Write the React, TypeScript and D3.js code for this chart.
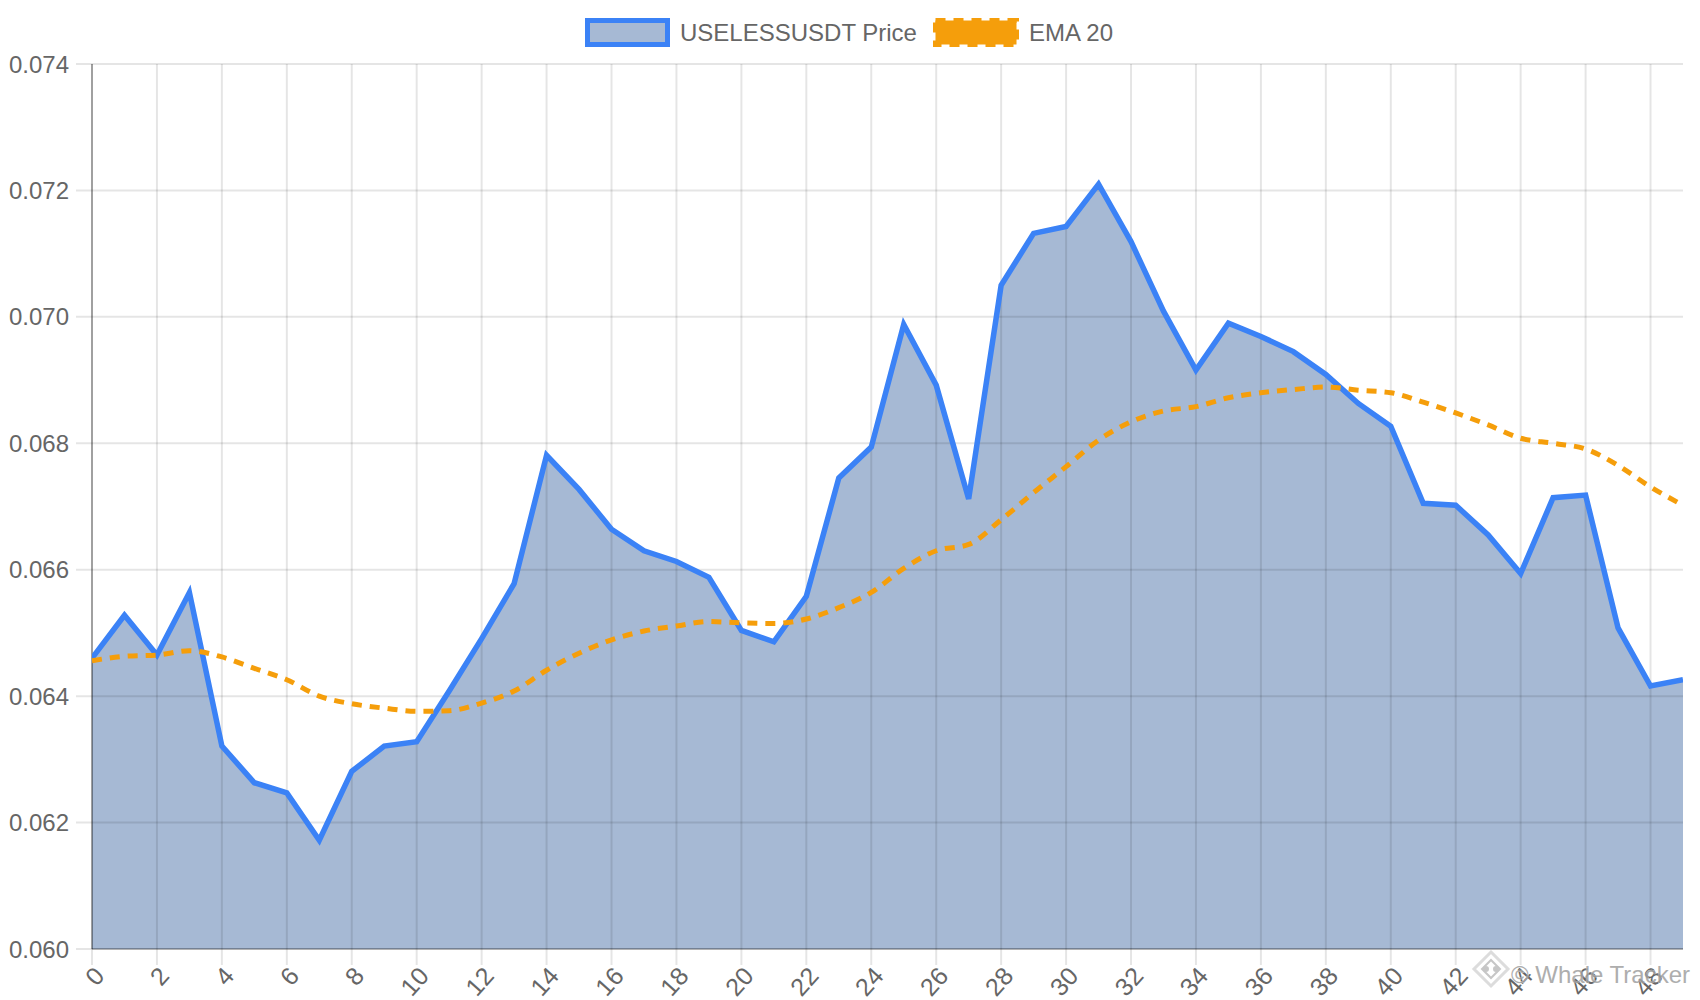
import React from "react";
import * as d3 from "d3";

const labels: number[] = Array.from({ length: 50 }, (_, i) => i);
const priceValues: number[] = [
  0.0646, 0.06528, 0.06465, 0.06564, 0.06321, 0.06263, 0.06247, 0.06172, 0.06281, 0.06321,
  0.06328, 0.06408, 0.06491, 0.06578, 0.06781, 0.06727, 0.06664, 0.0663, 0.06613, 0.06588,
  0.06504, 0.06486, 0.06558, 0.06745, 0.06794, 0.06988, 0.06892, 0.06712, 0.0705, 0.07132,
  0.07143, 0.0721, 0.07119, 0.07009, 0.06916, 0.0699, 0.06969, 0.06945, 0.06909, 0.06863,
  0.06827, 0.06705, 0.06702, 0.06655, 0.06594, 0.06714, 0.06718, 0.06508, 0.06416, 0.06426,
];
const emaValues: number[] = [
  0.06456, 0.06463, 0.06465, 0.06472, 0.06462, 0.06444, 0.06426, 0.064, 0.06388, 0.06381,
  0.06376, 0.06377, 0.06389, 0.06408, 0.06441, 0.06468, 0.06489, 0.06503, 0.06511, 0.06518,
  0.06516, 0.06515, 0.06522, 0.0654, 0.06564, 0.06602, 0.0663, 0.0664, 0.06679, 0.06722,
  0.06763, 0.06805, 0.06834, 0.06851, 0.06858, 0.06872, 0.0688, 0.06885, 0.06889, 0.06884,
  0.0688, 0.06865, 0.06848, 0.06829, 0.06808, 0.068, 0.06791, 0.06765, 0.06731, 0.06702,
];
const yTicks: number[] = [0.06, 0.062, 0.064, 0.066, 0.068, 0.07, 0.072, 0.074];
const seriesNames: string[] = ["USELESSUSDT Price", "EMA 20"];

const W = 1700;
const H = 1000;
const M = { left: 92, right: 1683, top: 64, bottom: 949 };
const FONT = "'Liberation Sans', Arial, Helvetica, sans-serif";
const BLUE = "#3b82f6";
const FILL = "#a6b9d4";
const ORANGE = "#f59e0b";
const TEXT = "#666666";

export default function App() {
  const x = d3.scaleLinear().domain([0, labels.length - 1]).range([M.left, M.right]);
  const y = d3.scaleLinear().domain([0.06, 0.074]).range([M.bottom, M.top]);

  const area = d3
    .area<number>()
    .x((_, i) => x(labels[i]))
    .y0(y(0.06))
    .y1((d) => y(d))
    .curve(d3.curveLinear);
  const line = d3
    .line<number>()
    .x((_, i) => x(labels[i]))
    .y((d) => y(d))
    .curve(d3.curveLinear);
  const emaLine = d3
    .line<number>()
    .x((_, i) => x(labels[i]))
    .y((d) => y(d))
    .curve(d3.curveMonotoneX);

  const xTickVals = labels.filter((l) => l % 2 === 0);

  return (
    <svg
      width={W}
      height={H}
      style={{ position: "absolute", left: 0, top: 0, background: "#fff" }}
      fontFamily={FONT}
    >
      <defs>
        <clipPath id="plot">
          <rect x={M.left} y={M.top - 4} width={M.right - M.left} height={M.bottom - M.top + 4} />
        </clipPath>
      </defs>

      {/* fill */}
      <path d={area(priceValues) || ""} fill={FILL} />

      {/* horizontal grid */}
      {yTicks.map((t) => (
        <line
          key={"hy" + t}
          x1={M.left - 16}
          x2={M.right}
          y1={y(t)}
          y2={y(t)}
          stroke="rgba(0,0,0,0.1)"
          strokeWidth={2}
        />
      ))}
      {/* vertical grid */}
      {xTickVals.map((t) => (
        <line
          key={"vx" + t}
          x1={x(t)}
          x2={x(t)}
          y1={M.top}
          y2={M.bottom + 16}
          stroke="rgba(0,0,0,0.1)"
          strokeWidth={2}
        />
      ))}

      {/* axes lines */}
      <line x1={M.left} x2={M.left} y1={M.top} y2={M.bottom} stroke="rgba(0,0,0,0.3)" strokeWidth={2} />
      <line x1={M.left} x2={M.right} y1={M.bottom} y2={M.bottom} stroke="rgba(0,0,0,0.22)" strokeWidth={2} />

      {/* lines */}
      <g clipPath="url(#plot)">
        <path
          d={line(priceValues) || ""}
          fill="none"
          stroke={BLUE}
          strokeWidth={5.5}
          strokeLinejoin="miter"
        />
        <path
          d={emaLine(emaValues) || ""}
          fill="none"
          stroke={ORANGE}
          strokeWidth={5}
          strokeDasharray="10 8"
        />
      </g>

      {/* y tick labels */}
      {yTicks.map((t) => (
        <text
          key={"yl" + t}
          x={69}
          y={y(t)}
          textAnchor="end"
          dominantBaseline="central"
          fontSize={24}
          fill={TEXT}
        >
          {d3.format(".3f")(t)}
        </text>
      ))}

      {/* x tick labels */}
      {xTickVals.map((t) => (
        <text
          key={"xl" + t}
          transform={`translate(${x(t) + 7},${M.bottom + 22}) rotate(-48)`}
          textAnchor="end"
          dominantBaseline="central"
          fontSize={25}
          fill={TEXT}
        >
          {String(t)}
        </text>
      ))}

      {/* legend */}
      <g>
        <rect x={587.5} y={20.5} width={80} height={24} fill={FILL} stroke={BLUE} strokeWidth={5} />
        <text x={680} y={32.5} dominantBaseline="central" fontSize={24} fill={TEXT}>
          {seriesNames[0]}
        </text>
        <rect
          x={935.5}
          y={20.5}
          width={81}
          height={24}
          fill={ORANGE}
          stroke={ORANGE}
          strokeWidth={5}
          strokeDasharray="10 8"
        />
        <rect x={938} y={23} width={76} height={19} fill={ORANGE} />
        <text x={1029} y={32.5} dominantBaseline="central" fontSize={24} fill={TEXT}>
          {seriesNames[1]}
        </text>
      </g>

      {/* watermark */}
      <g opacity={0.85}>
        <g transform="translate(1491,969)" fill="none" stroke="#bdbdbd" strokeWidth={2}>
          <path d="M0,-17 L17,0 L0,17 L-17,0 Z" stroke="#d6d6d6" strokeWidth={3} />
          <path d="M0,-9 L9,0 L0,9 L-9,0 Z" />
          <circle cx={-5} cy={0} r={2} fill="#bdbdbd" />
          <circle cx={5} cy={0} r={2} fill="#bdbdbd" />
        </g>
        <text
          x={1690}
          y={983}
          textAnchor="end"
          fontSize={24}
          fill="#a0a0a0"
          stroke="#ffffff"
          strokeWidth={0.5}
          paintOrder="stroke"
        >
          © Whale Tracker
        </text>
      </g>
    </svg>
  );
}
